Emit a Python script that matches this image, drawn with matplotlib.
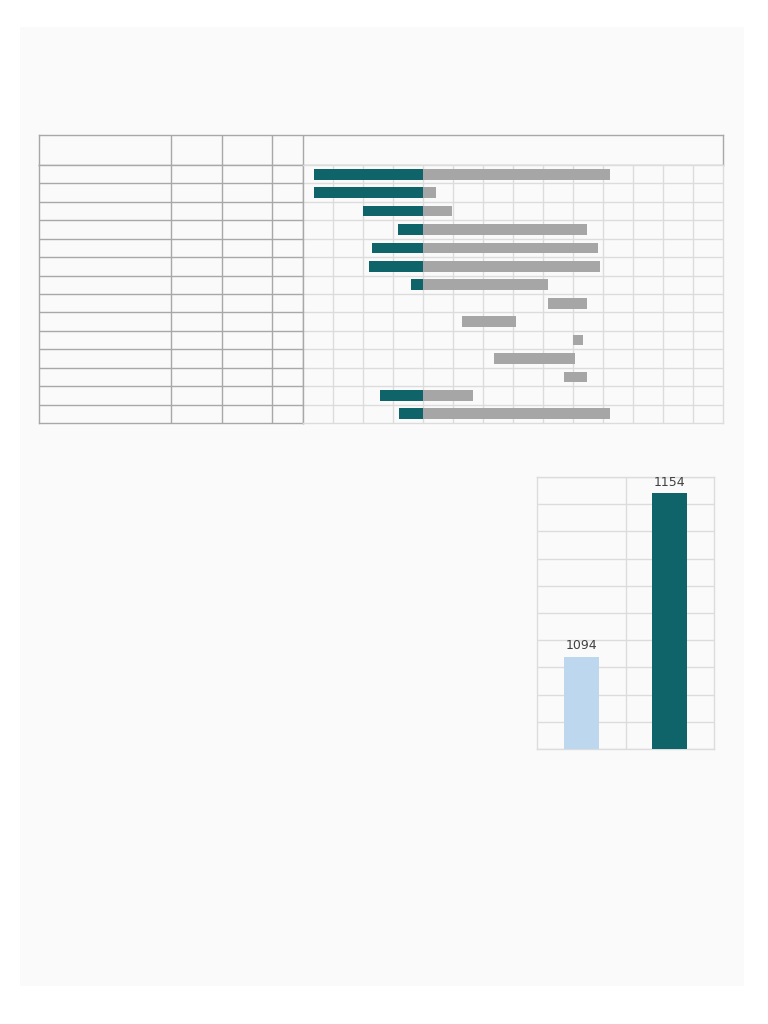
import matplotlib
matplotlib.use("Agg")
import matplotlib.pyplot as plt
from matplotlib.patches import Rectangle

# ---- data ----
task_done_start = [0.37, 0.37, 2.0, 3.18, 2.31, 2.19, 3.6, None, None, None, None, None, 2.57, 3.21]
task_end = [10.24, 4.44, 4.96, 9.47, 9.83, 9.9, 8.16, 9.47, 7.11, 9.34, 9.08, 9.48, 5.67, 10.24]
task_plan_start = [None, None, None, None, None, None, None, 8.17, 5.3, 9.01, 6.36, 8.7, None, None]
today = 4.0
n_periods = 14

bar_categories = ["A", "B"]
bar_values = [1094, 1154]

TEAL = "#0e6468"
GREY = "#a6a6a6"
LBLUE = "#bdd7ee"
TLINE = "#a8a8a8"
GLINE = "#dcdcdc"
PAGE = "#fafafa"

W, H = 768, 1024
fig = plt.figure(figsize=(W / 100, H / 100), dpi=100)
fig.patch.set_facecolor("white")

def ax_px(x0, y0, x1, y1, **kw):
    return fig.add_axes([x0 / W, 1 - y1 / H, (x1 - x0) / W, (y1 - y0) / H], **kw)

# page background
fig.patches.append(Rectangle((20 / W, 1 - 986 / H), (744 - 20) / W, (986 - 27) / H,
                             transform=fig.transFigure, facecolor=PAGE, edgecolor="none", zorder=-10))

n_rows = len(task_end)

# ---- header row ----
axh = ax_px(39, 135, 723, 165)
axh.set_xlim(39, 723)
axh.set_ylim(0, 1)
axh.set_facecolor(PAGE)
for s in axh.spines.values():
    s.set_color(TLINE)
    s.set_linewidth(1)
for xv in [171, 222, 272, 303]:
    axh.axvline(xv, color=TLINE, lw=1)
axh.set_xticks([]); axh.set_yticks([])

# ---- left table ----
axl = ax_px(39, 165, 303, 423)
axl.set_xlim(39, 303)
axl.set_ylim(n_rows, 0)
axl.set_facecolor(PAGE)
for s in axl.spines.values():
    s.set_color(TLINE)
    s.set_linewidth(1)
for xv in [171, 222, 272]:
    axl.axvline(xv, color=TLINE, lw=1)
for r in range(1, n_rows):
    axl.axhline(r, color=TLINE, lw=1)
axl.set_xticks([]); axl.set_yticks([])

# ---- gantt ----
axg = ax_px(303, 165, 723, 423)
axg.set_xlim(0, n_periods)
axg.set_ylim(n_rows, 0)
axg.set_facecolor(PAGE)
for xv in range(1, n_periods):
    axg.axvline(xv, color=GLINE, lw=1, zorder=1)
for r in range(1, n_rows):
    axg.axhline(r, color=GLINE, lw=1, zorder=1)
for k, s in axg.spines.items():
    s.set_color(GLINE)
    s.set_linewidth(1)
axg.spines["left"].set_color(TLINE)
axg.set_xticks([]); axg.set_yticks([])

bh = 0.58
for i in range(n_rows):
    yc = i + 0.5
    ds = task_done_start[i]
    if ds is not None:
        axg.barh(yc, today - ds, left=ds, height=bh, color=TEAL, zorder=3)
        axg.barh(yc, task_end[i] - today, left=today, height=bh, color=GREY, zorder=3)
    else:
        ps = task_plan_start[i]
        axg.barh(yc, task_end[i] - ps, left=ps, height=bh, color=GREY, zorder=3)

# ---- bar chart ----
axb = ax_px(537, 477, 714, 749)
axb.set_facecolor(PAGE)
axb.set_xlim(-0.5, 1.5)
axb.set_ylim(1060, 1160)
axb.set_yticks(range(1060, 1161, 10))
axb.yaxis.grid(True, color=GLINE, lw=1)
axb.axvline(0.5, color=GLINE, lw=1)
axb.set_axisbelow(True)
axb.tick_params(left=False, bottom=False, labelleft=False, labelbottom=False)
for s in axb.spines.values():
    s.set_color(GLINE)
    s.set_linewidth(1)
xs = list(range(len(bar_values)))
bars = axb.bar(xs, bar_values, width=0.4, color=[LBLUE, TEAL], zorder=3)
for x, v in zip(xs, bar_values):
    axb.annotate(str(v), (x, v), xytext=(0, 3), textcoords="offset points",
                 ha="center", va="bottom", fontsize=9, color="#404040",
                 annotation_clip=False)

fig.savefig("out.png", dpi=100, facecolor="white")
